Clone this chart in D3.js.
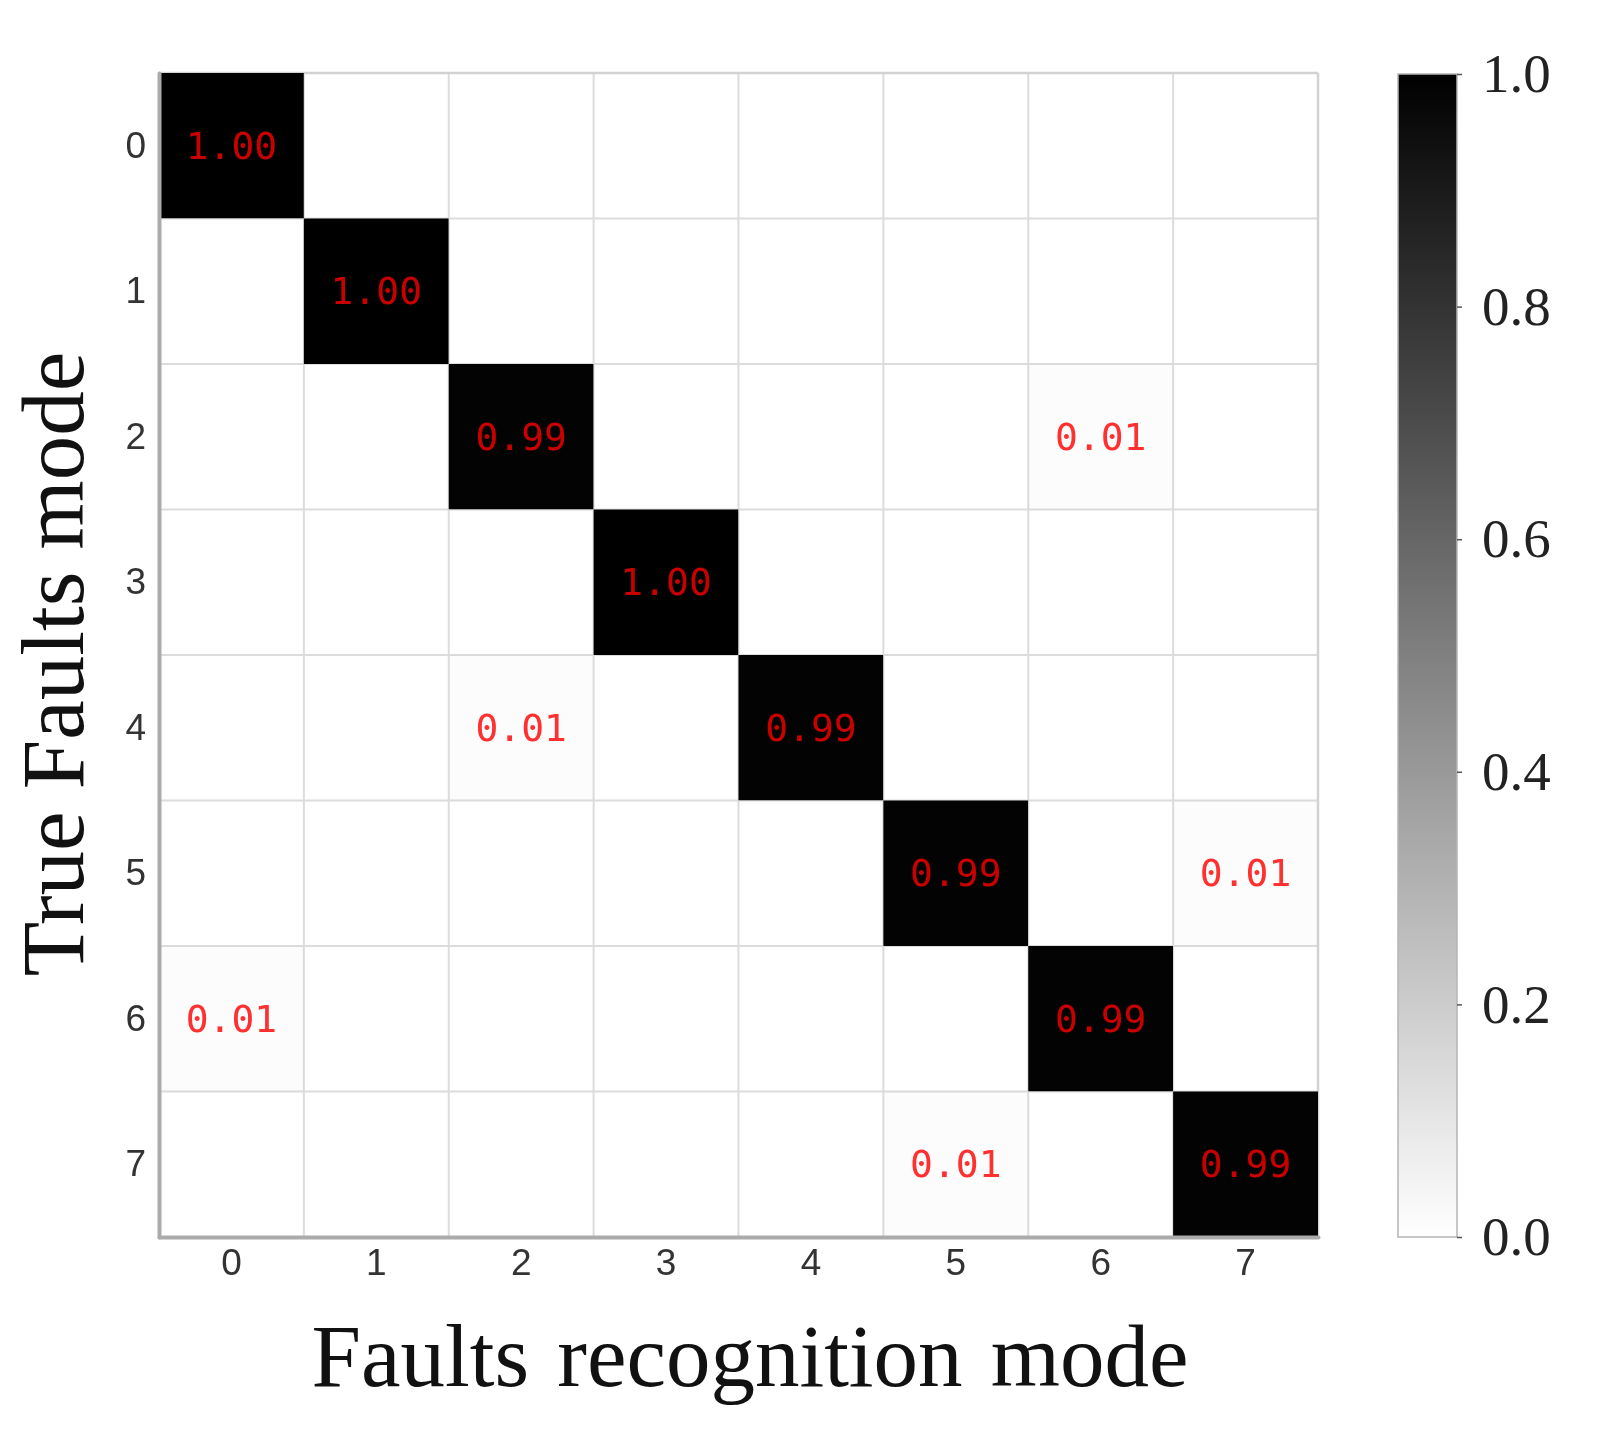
<!DOCTYPE html>
<html>
<head>
<meta charset="utf-8">
<script src="https://cdn.jsdelivr.net/npm/d3@7"></script>
<style>
  html, body { margin: 0; padding: 0; background: #fff; }
  svg { display: block; }
</style>
</head>
<body>
<svg id="chart" width="1621" height="1437"></svg>
<script>
// ---- data ----
const categories = ["0", "1", "2", "3", "4", "5", "6", "7"];
const row0 = [1.00, 0, 0, 0, 0, 0, 0, 0];
const row1 = [0, 1.00, 0, 0, 0, 0, 0, 0];
const row2 = [0, 0, 0.99, 0, 0, 0, 0.01, 0];
const row3 = [0, 0, 0, 1.00, 0, 0, 0, 0];
const row4 = [0, 0, 0.01, 0, 0.99, 0, 0, 0];
const row5 = [0, 0, 0, 0, 0, 0.99, 0, 0.01];
const row6 = [0.01, 0, 0, 0, 0, 0, 0.99, 0];
const row7 = [0, 0, 0, 0, 0, 0.01, 0, 0.99];
const matrix = [row0, row1, row2, row3, row4, row5, row6, row7];
const colorbarTicks = [0.0, 0.2, 0.4, 0.6, 0.8, 1.0];
const xTitle = "Faults recognition mode";
const yTitle = "True Faults mode";

// ---- layout ----
const svg = d3.select("#chart");
const plot = { left: 159, right: 1318, top: 73, bottom: 1237 };
const cbar = { left: 1398, width: 59, top: 74, bottom: 1237 };

const x = d3.scaleBand().domain(categories).range([plot.left, plot.right]);
const y = d3.scaleBand().domain(categories).range([plot.top, plot.bottom]);
const color = d3.scaleLinear().domain([0, 1]).range(["#ffffff", "#000000"]);

const cells = [];
matrix.forEach((row, i) => row.forEach((v, j) => cells.push({ r: categories[i], c: categories[j], v })));

// cells
svg.append("g").selectAll("rect").data(cells).join("rect")
  .attr("x", d => x(d.c)).attr("y", d => y(d.r))
  .attr("width", x.bandwidth()).attr("height", y.bandwidth())
  .attr("fill", d => color(d.v));

// grid lines (multiply so they vanish on dark cells)
const grid = svg.append("g").style("mix-blend-mode", "multiply");
categories.slice(1).forEach(c => {
  grid.append("line").attr("x1", x(c)).attr("x2", x(c))
    .attr("y1", plot.top).attr("y2", plot.bottom)
    .attr("stroke", "#dcdcdc").attr("stroke-width", 2);
  grid.append("line").attr("y1", y(c)).attr("y2", y(c))
    .attr("x1", plot.left).attr("x2", plot.right)
    .attr("stroke", "#dcdcdc").attr("stroke-width", 2);
});
// top & right border
grid.append("line").attr("x1", plot.left).attr("x2", plot.right).attr("y1", plot.top).attr("y2", plot.top)
  .attr("stroke", "#d2d2d2").attr("stroke-width", 2.5);
grid.append("line").attr("x1", plot.right).attr("x2", plot.right).attr("y1", plot.top).attr("y2", plot.bottom)
  .attr("stroke", "#d2d2d2").attr("stroke-width", 2.5);

// cell labels
svg.append("g").selectAll("text").data(cells.filter(d => d.v > 0)).join("text")
  .attr("x", d => x(d.c) + x.bandwidth() / 2)
  .attr("y", d => y(d.r) + y.bandwidth() / 2)
  .attr("text-anchor", "middle").attr("dominant-baseline", "central")
  .attr("font-family", "DejaVu Sans Mono, monospace").attr("font-size", 38)
  .attr("fill", d => d.v > 0.5 ? "#c80000" : "#ff3030")
  .text(d => d3.format(".2f")(d.v));

// axes
const xAxis = svg.append("g").attr("transform", `translate(0,${plot.bottom})`)
  .call(d3.axisBottom(x).tickSize(0).tickPadding(12));
const yAxis = svg.append("g").attr("transform", `translate(${plot.left},0)`)
  .call(d3.axisLeft(y).tickSize(0).tickPadding(13));
[xAxis, yAxis].forEach(g => {
  g.select(".domain").attr("stroke", "#ababab").attr("stroke-width", 4).attr("stroke-linecap", "round");
  g.selectAll("text").attr("font-family", "Liberation Sans, Arial, sans-serif")
    .attr("font-size", 37).attr("fill", "#333");
});

// colorbar
const defs = svg.append("defs");
const grad = defs.append("linearGradient").attr("id", "cbgrad")
  .attr("x1", 0).attr("y1", 1).attr("x2", 0).attr("y2", 0);
d3.range(0, 1.0001, 0.1).forEach(t => grad.append("stop").attr("offset", t).attr("stop-color", color(t)));
svg.append("rect").attr("x", cbar.left).attr("y", cbar.top)
  .attr("width", cbar.width).attr("height", cbar.bottom - cbar.top)
  .attr("fill", "url(#cbgrad)").attr("stroke", "#b5b5b5").attr("stroke-width", 1.5);
const cy = d3.scaleLinear().domain([0, 1]).range([cbar.bottom, cbar.top]);
const cAxis = svg.append("g").attr("transform", `translate(${cbar.left + cbar.width},0)`)
  .call(d3.axisRight(cy).tickValues(colorbarTicks).tickFormat(d3.format(".1f")).tickSize(5).tickPadding(20));
cAxis.select(".domain").remove();
cAxis.selectAll("line").attr("stroke", "#555").attr("stroke-width", 1.5);
cAxis.selectAll("text").attr("font-family", "Liberation Serif, Times New Roman, serif")
  .attr("font-size", 55).attr("fill", "#222");

// titles
svg.append("text").attr("x", 750).attr("y", 1386).attr("text-anchor", "middle")
  .attr("font-family", "Liberation Serif, Times New Roman, serif").attr("font-size", 89)
  .attr("word-spacing", 6)
  .attr("fill", "#111").text(xTitle);
svg.append("text").attr("transform", "translate(83,664) rotate(-90)").attr("text-anchor", "middle")
  .attr("font-family", "Liberation Serif, Times New Roman, serif").attr("font-size", 89)
  .attr("fill", "#111").text(yTitle);
</script>
</body>
</html>
